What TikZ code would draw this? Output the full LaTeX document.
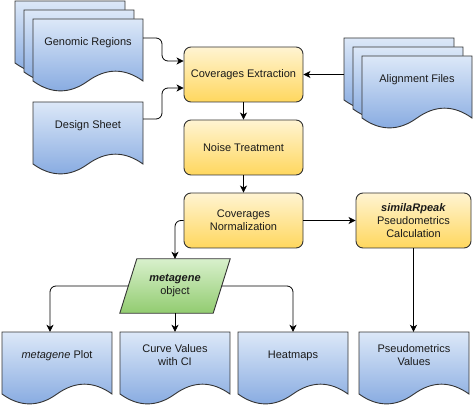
\documentclass[tikz,border=0pt]{standalone}
\usepackage{fontspec}
\setmainfont{Liberation Sans}
\usetikzlibrary{arrows.meta,calc}
\definecolor{docTop}{HTML}{DCE8F8}
\definecolor{docBot}{HTML}{85A9E0}
\definecolor{procTop}{HTML}{FFF4D2}
\definecolor{procBot}{HTML}{FFD75E}
\definecolor{objTop}{HTML}{D8F0CC}
\definecolor{objBot}{HTML}{92CC70}
\definecolor{edge}{HTML}{333333}
\definecolor{txt}{HTML}{1A1A1A}
\tikzset{
  docshape/.style={draw=edge, line width=0.9pt, top color=docTop, bottom color=docBot},
  doctext/.style={inner sep=0pt, minimum width=110pt, minimum height=47pt, align=center, text=txt, font=\fontsize{11}{13}\selectfont},
  process/.style={draw=edge, line width=0.9pt, rounded corners=7pt, top color=procTop, bottom color=procBot, inner sep=0pt, align=center, text=txt, font=\fontsize{11}{13}\selectfont},
  objshape/.style={draw=edge, line width=0.9pt, top color=objTop, bottom color=objBot},
  objtext/.style={inner sep=0pt, minimum width=93pt, minimum height=54pt, align=center, text=txt, font=\fontsize{11}{13}\selectfont},
  conn/.style={draw=black, line width=0.8pt, rounded corners=6pt, -{Stealth[length=7pt,width=7pt,inset=2pt]}},
}
% document outline: x, y (top-left, in pixels), w
\newcommand{\docpath}[3]{%
  \path[docshape] (#1,#2) -- ({#1+#3},#2) -- ({#1+#3},{#2+62})
    .. controls ({#1+0.8333*#3},{#2+48.9}) and ({#1+0.6667*#3},{#2+48.9}) .. ({#1+0.5*#3},{#2+62})
    .. controls ({#1+0.3333*#3},{#2+75.2}) and ({#1+0.1667*#3},{#2+75.2}) .. (#1,{#2+62}) -- cycle;%
}
\begin{document}
\begin{tikzpicture}[x=1pt,y=-1pt]
\useasboundingbox (0,0) rectangle (474,406);
% Genomic Regions stack
\docpath{15}{1}{110}
\docpath{24}{10}{110}
\docpath{33}{19}{110}
\node[doctext] (genomic) at (88,43) {Genomic Regions};
% Design Sheet
\docpath{33}{102}{110}
\node[doctext] (design) at (88,125.5) {Design Sheet};
% Alignment Files stack
\docpath{344}{38}{110}
\docpath{353}{47}{110}
\docpath{362}{56}{110}
\node[doctext] (align) at (417,79.5) {Alignment Files};
% Process boxes
\node[process, minimum width=119pt, minimum height=55pt] (covext) at (243.5,74.5) {Coverages Extraction};
\node[process, minimum width=119pt, minimum height=55pt] (noise) at (243.5,147.5) {Noise Treatment};
\node[process, minimum width=119pt, minimum height=55pt] (norm) at (243.5,220.5) {Coverages\\Normalization};
\node[process, minimum width=115pt, minimum height=55pt] (simil) at (413.5,220.5) {\textbf{\textit{similaRpeak}}\\Pseudometrics\\Calculation};
% metagene object
\node[objtext] (meta) at (175,286) {};
\path[objshape] ([xshift=8.5pt]meta.north west) -- ([xshift=8.5pt]meta.north east)
  -- ([xshift=-8.5pt]meta.south east) -- ([xshift=-8.5pt]meta.south west) -- cycle;
\node[objtext] at (meta) {\textbf{\textit{metagene}}\\object};
% Bottom documents
\docpath{2}{332}{110}
\node[doctext] (plot) at (57,355.5) {\textit{metagene} Plot};
\docpath{120}{332}{110}
\node[doctext] (curve) at (175,355.5) {Curve Values\\with CI};
\docpath{238}{332}{110}
\node[doctext] (heat) at (293,355.5) {Heatmaps};
\docpath{359}{332}{110}
\node[doctext] (pseudo) at (414,355.5) {Pseudometrics\\Values};
% connectors
\coordinate (gout) at (143,38);
\coordinate (dout) at (143,119);
\draw[conn] (gout) -- (162,38) -- (162,61) -- (covext.west |- 0,61);
\draw[conn] (dout) -- (162,119) -- (162,88) -- (covext.west |- 0,88);
\draw[conn] (344,74.5) -- (covext.east);
\draw[conn] (covext.south) -- (noise.north);
\draw[conn] (noise.south) -- (norm.north);
\draw[conn] (norm.east) -- (simil.west);
\draw[conn] (norm.west) -| (meta.north);
\draw[conn] (simil.south) -- (simil.south |- pseudo.north);
\draw[conn] (meta.south) -- (curve.north);
\draw[conn] (meta.west) -| ([xshift=-7pt]plot.north);
\draw[conn] (meta.east) -| (heat.north);
\end{tikzpicture}
\end{document}
